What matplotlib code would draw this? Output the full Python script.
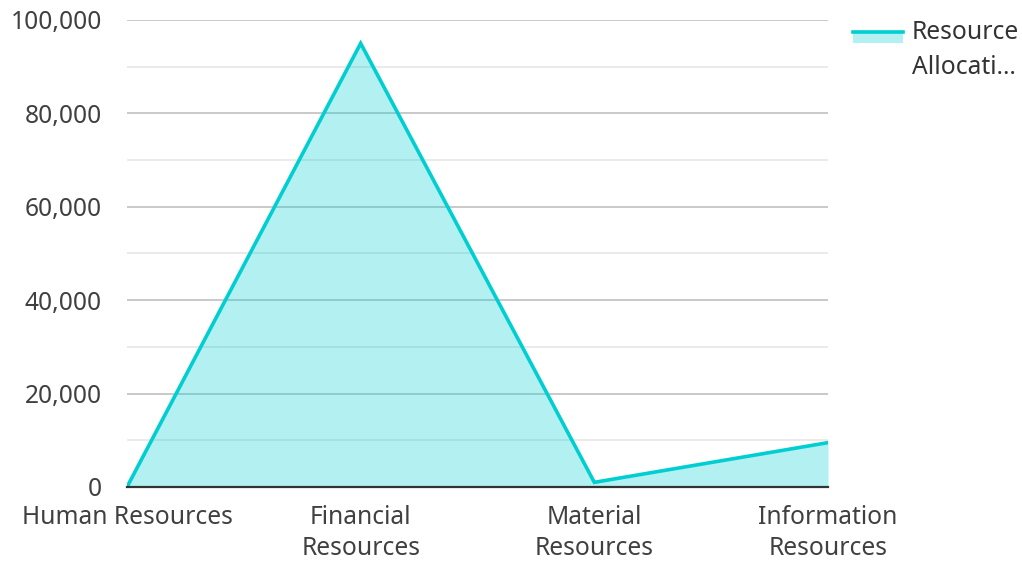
import matplotlib.pyplot as plt
from matplotlib.lines import Line2D
from matplotlib.patches import Rectangle
from matplotlib.ticker import FuncFormatter, MultipleLocator

plt.rcParams['font.family'] = ['Noto Sans', 'DejaVu Sans']

categories = ['Human Resources', 'Financial\nResources', 'Material\nResources', 'Information\nResources']
values = [0, 95000, 1000, 9500]
series_name = 'Resource\nAllocati…'

line_color = '#00CED1'
text_color = '#404040'
fs = 17.7

fig = plt.figure(figsize=(10.22, 5.61), dpi=100)
ax = fig.add_axes([127 / 1022, 74 / 561, 701 / 1022, 467 / 561])

x = range(len(values))
ax.fill_between(x, values, 0, color=line_color, alpha=0.3, linewidth=0)
ax.plot(x, values, color=line_color, linewidth=2.6, solid_joinstyle='miter')

ax.set_xlim(0, len(values) - 1)
ax.set_ylim(0, 100000)
ax.yaxis.set_major_locator(MultipleLocator(20000))
ax.yaxis.set_minor_locator(MultipleLocator(10000))
ax.yaxis.set_major_formatter(FuncFormatter(lambda v, p: f'{v:,.0f}'))
ax.grid(axis='y', which='major', color='#c0c0c0', linewidth=1.2)
ax.grid(axis='y', which='minor', color='#e6e6e6', linewidth=1.2)
ax.set_axisbelow(True)

ax.set_xticks(list(x))
ax.set_xticklabels(categories)
ax.tick_params(axis='x', length=0, pad=13, labelsize=fs, labelcolor=text_color)
ax.tick_params(axis='y', which='both', length=0, pad=18, labelsize=fs, labelcolor=text_color)
for lbl in ax.get_xticklabels():
    lbl.set_linespacing(1.3)
    lbl.set_verticalalignment('top')

for s in ['top', 'right', 'left']:
    ax.spines[s].set_visible(False)
ax.spines['bottom'].set_color('#333333')
ax.spines['bottom'].set_linewidth(1.6)

# legend drawn by hand: line over a light band
fig.add_artist(Rectangle((853 / 1022, 1 - 43 / 561), 50 / 1022, 12 / 561,
                         transform=fig.transFigure, color=line_color, alpha=0.3, linewidth=0))
fig.add_artist(Line2D([853 / 1022, 903 / 1022], [1 - 32 / 561, 1 - 32 / 561],
                      transform=fig.transFigure, color=line_color, linewidth=2.6))
fig.text(912 / 1022, 1 - 20 / 561, series_name, fontsize=fs, color='#333333',
         va='top', ha='left', linespacing=1.5)

fig.savefig('out.png', dpi=100)
